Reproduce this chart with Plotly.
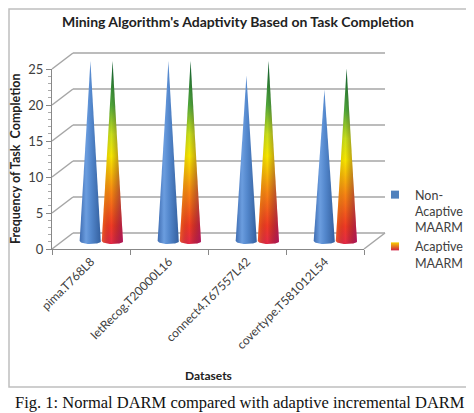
import numpy as np
import plotly.graph_objects as go

# values
datasets = ["pima.T768L8", "letRecog.T20000L16", "connect4.T67557L42", "covertype.T581012L54"]
non_adaptive = [25, 25, 23, 21]
adaptive = [25, 25, 25, 24]
y_ticks = [0, 5, 10, 15, 20, 25]

# the page body keeps its default 8px margin, so the figure is drawn 8px in
PAD = 8
W, H = 474 - PAD, 413 - PAD


def fx(px):
    return (px - PAD) / W


def fy(py):
    return 1 - (py - PAD) / H


# pseudo 3d geometry (front plane, depth shift in px)
X0, CW = 52, 78
Y0, VU = 249, 7.2
DX, DY = 21, 16


def to_paper(cat, val, depth):
    px = X0 + (cat + 0.5) * CW + DX * depth
    py = Y0 - val * VU - DY * depth
    return fx(px), fy(py)


def cone(center, value, half=0.138, ell=0.42):
    t = np.linspace(0, np.pi, 25)
    xs = [center] + list(center + half * np.cos(t)) + [center]
    ys = [value] + list(-ell * np.sin(t)) + [value]
    return xs, ys


blue_scale = [[0, "#3f6db2"], [0.3, "#6b9ddf"], [0.55, "#5387cc"], [1, "#34609f"]]
rainbow = [[0, "#e42a48"], [0.1, "#f03a24"], [0.28, "#f88414"], [0.48, "#f8e600"],
           [0.6, "#c9df1c"], [0.76, "#4fa63a"], [1, "#0f5e30"]]
shade = [[0, "rgba(255,190,0,0.3)"], [0.45, "rgba(0,0,0,0)"], [1, "rgba(120,0,120,0.5)"]]

fig = go.Figure()

for i, name in enumerate(datasets):
    xs, ys = cone(i - 0.142, non_adaptive[i])
    fig.add_trace(go.Scatter(x=xs, y=ys, xaxis="x2", yaxis="y2", mode="lines",
                             fill="toself", line=dict(width=0, color="#4f81bd"),
                             fillgradient=dict(type="horizontal", colorscale=blue_scale),
                             showlegend=False, hoverinfo="skip"))
    xs, ys = cone(i + 0.142, adaptive[i])
    fig.add_trace(go.Scatter(x=xs, y=ys, xaxis="x2", yaxis="y2", mode="lines",
                             fill="toself", line=dict(width=0, color="#f8a000"),
                             fillgradient=dict(type="vertical", colorscale=rainbow),
                             showlegend=False, hoverinfo="skip"))
    fig.add_trace(go.Scatter(x=xs, y=ys, xaxis="x2", yaxis="y2", mode="lines",
                             fill="toself", line=dict(width=0, color="rgba(0,0,0,0)"),
                             fillgradient=dict(type="horizontal", colorscale=shade),
                             showlegend=False, hoverinfo="skip"))

# legend entries
fig.add_trace(go.Scatter(x=[None], y=[None], mode="markers", name="Non-<br>Acaptive<br>MAARM",
                         marker=dict(symbol="square", size=8, color="#4f81bd")))
fig.add_trace(go.Scatter(x=[None], y=[None], mode="markers", name="Acaptive<br>MAARM",
                         marker=dict(symbol="square", size=8, color="#f8d000",
                                     gradient=dict(type="vertical", color="#d02040"))))

# walls and floor
grid = dict(color="#a6a6a6", width=1.5)
shapes = []
for v in y_ticks:
    xa, ya = to_paper(-0.5, v, 1)
    xb, yb = to_paper(3.5, v, 1)
    shapes.append(dict(type="line", xref="paper", yref="paper", x0=xa, y0=ya, x1=xb, y1=yb,
                       line=grid, layer="below"))
    xc, yc = to_paper(-0.5, v, 0)
    shapes.append(dict(type="line", xref="paper", yref="paper", x0=xc, y0=yc, x1=xa, y1=ya,
                       line=grid, layer="below"))
xa, ya = to_paper(3.5, 0, 0)
xb, yb = to_paper(3.5, 0, 1)
shapes.append(dict(type="line", xref="paper", yref="paper", x0=xa, y0=ya, x1=xb, y1=yb,
                   line=grid, layer="below"))
shapes.append(dict(type="rect", xref="paper", yref="paper", x0=fx(9), y0=fy(387),
                   x1=fx(471), y1=fy(9), line=dict(color="#bfbfbf", width=1.5)))

font = "Lato, Open Sans, sans-serif"
fig.update_layout(
    width=W, height=H,
    margin=dict(l=0, r=0, t=0, b=0, autoexpand=False),
    paper_bgcolor="white", plot_bgcolor="rgba(0,0,0,0)",
    font=dict(family=font, size=12, color="#404040"),
    title=dict(text="<b>Mining Algorithm's Adaptivity Based on Task Completion</b>",
               x=fx(238), xanchor="center", y=fy(22), yanchor="middle",
               font=dict(family=font, size=14, color="#222222")),
    xaxis=dict(domain=[fx(52), fx(364)], anchor="y", type="category",
               categoryorder="array", categoryarray=datasets, range=[-0.5, 3.5],
               tickson="boundaries", ticks="outside", ticklen=5, tickcolor="#888888",
               tickangle=-45, showline=True, linecolor="#888888", linewidth=1,
               showgrid=False, zeroline=False, fixedrange=True, automargin=False,
               tickfont=dict(size=12, color="#404040")),
    yaxis=dict(domain=[fy(249), fy(69)], anchor="x", range=[0, 25], tickvals=y_ticks,
               ticks="outside", ticklen=5, tickcolor="#888888",
               minor=dict(dtick=1, ticks="outside", ticklen=3, tickcolor="#aaaaaa"),
               showline=True, linecolor="#888888", linewidth=1,
               showgrid=False, zeroline=False, fixedrange=True, automargin=False,
               tickfont=dict(size=13, color="#404040")),
    xaxis2=dict(domain=[fx(62.5 - 0.2 * CW), fx(62.5 + 4.2 * CW)], anchor="y2",
                range=[-0.7, 3.7], visible=False, fixedrange=True),
    yaxis2=dict(domain=[fy(241 + 3 * VU), fy(241 - 27 * VU)], anchor="x2",
                range=[-3, 27], visible=False, fixedrange=True),
    legend=dict(x=fx(375), y=fy(180), xanchor="left", yanchor="top", valign="top",
                bgcolor="rgba(0,0,0,0)", tracegroupgap=0, itemwidth=30,
                font=dict(family=font, size=12.5, color="#404040")),
    shapes=shapes,
    annotations=[
        dict(text="<b>Frequency of Task  Completion</b>", textangle=-90,
             xref="paper", yref="paper", x=fx(15), y=fy(159), xanchor="center",
             yanchor="middle", showarrow=False,
             font=dict(family=font, size=12.5, color="#222222")),
        dict(text="<b>Datasets</b>", xref="paper", yref="paper", x=fx(208), y=fy(375),
             xanchor="center", yanchor="middle", showarrow=False,
             font=dict(family=font, size=12, color="#222222")),
        dict(text="Fig. 1: Normal DARM compared with adaptive incremental DARM",
             xref="paper", yref="paper", x=fx(240), y=fy(402), xanchor="center",
             yanchor="middle", showarrow=False,
             font=dict(family="Liberation Serif, Times New Roman, serif",
                       size=16.5, color="#111111"))],
)

fig.write_html("out.html")
